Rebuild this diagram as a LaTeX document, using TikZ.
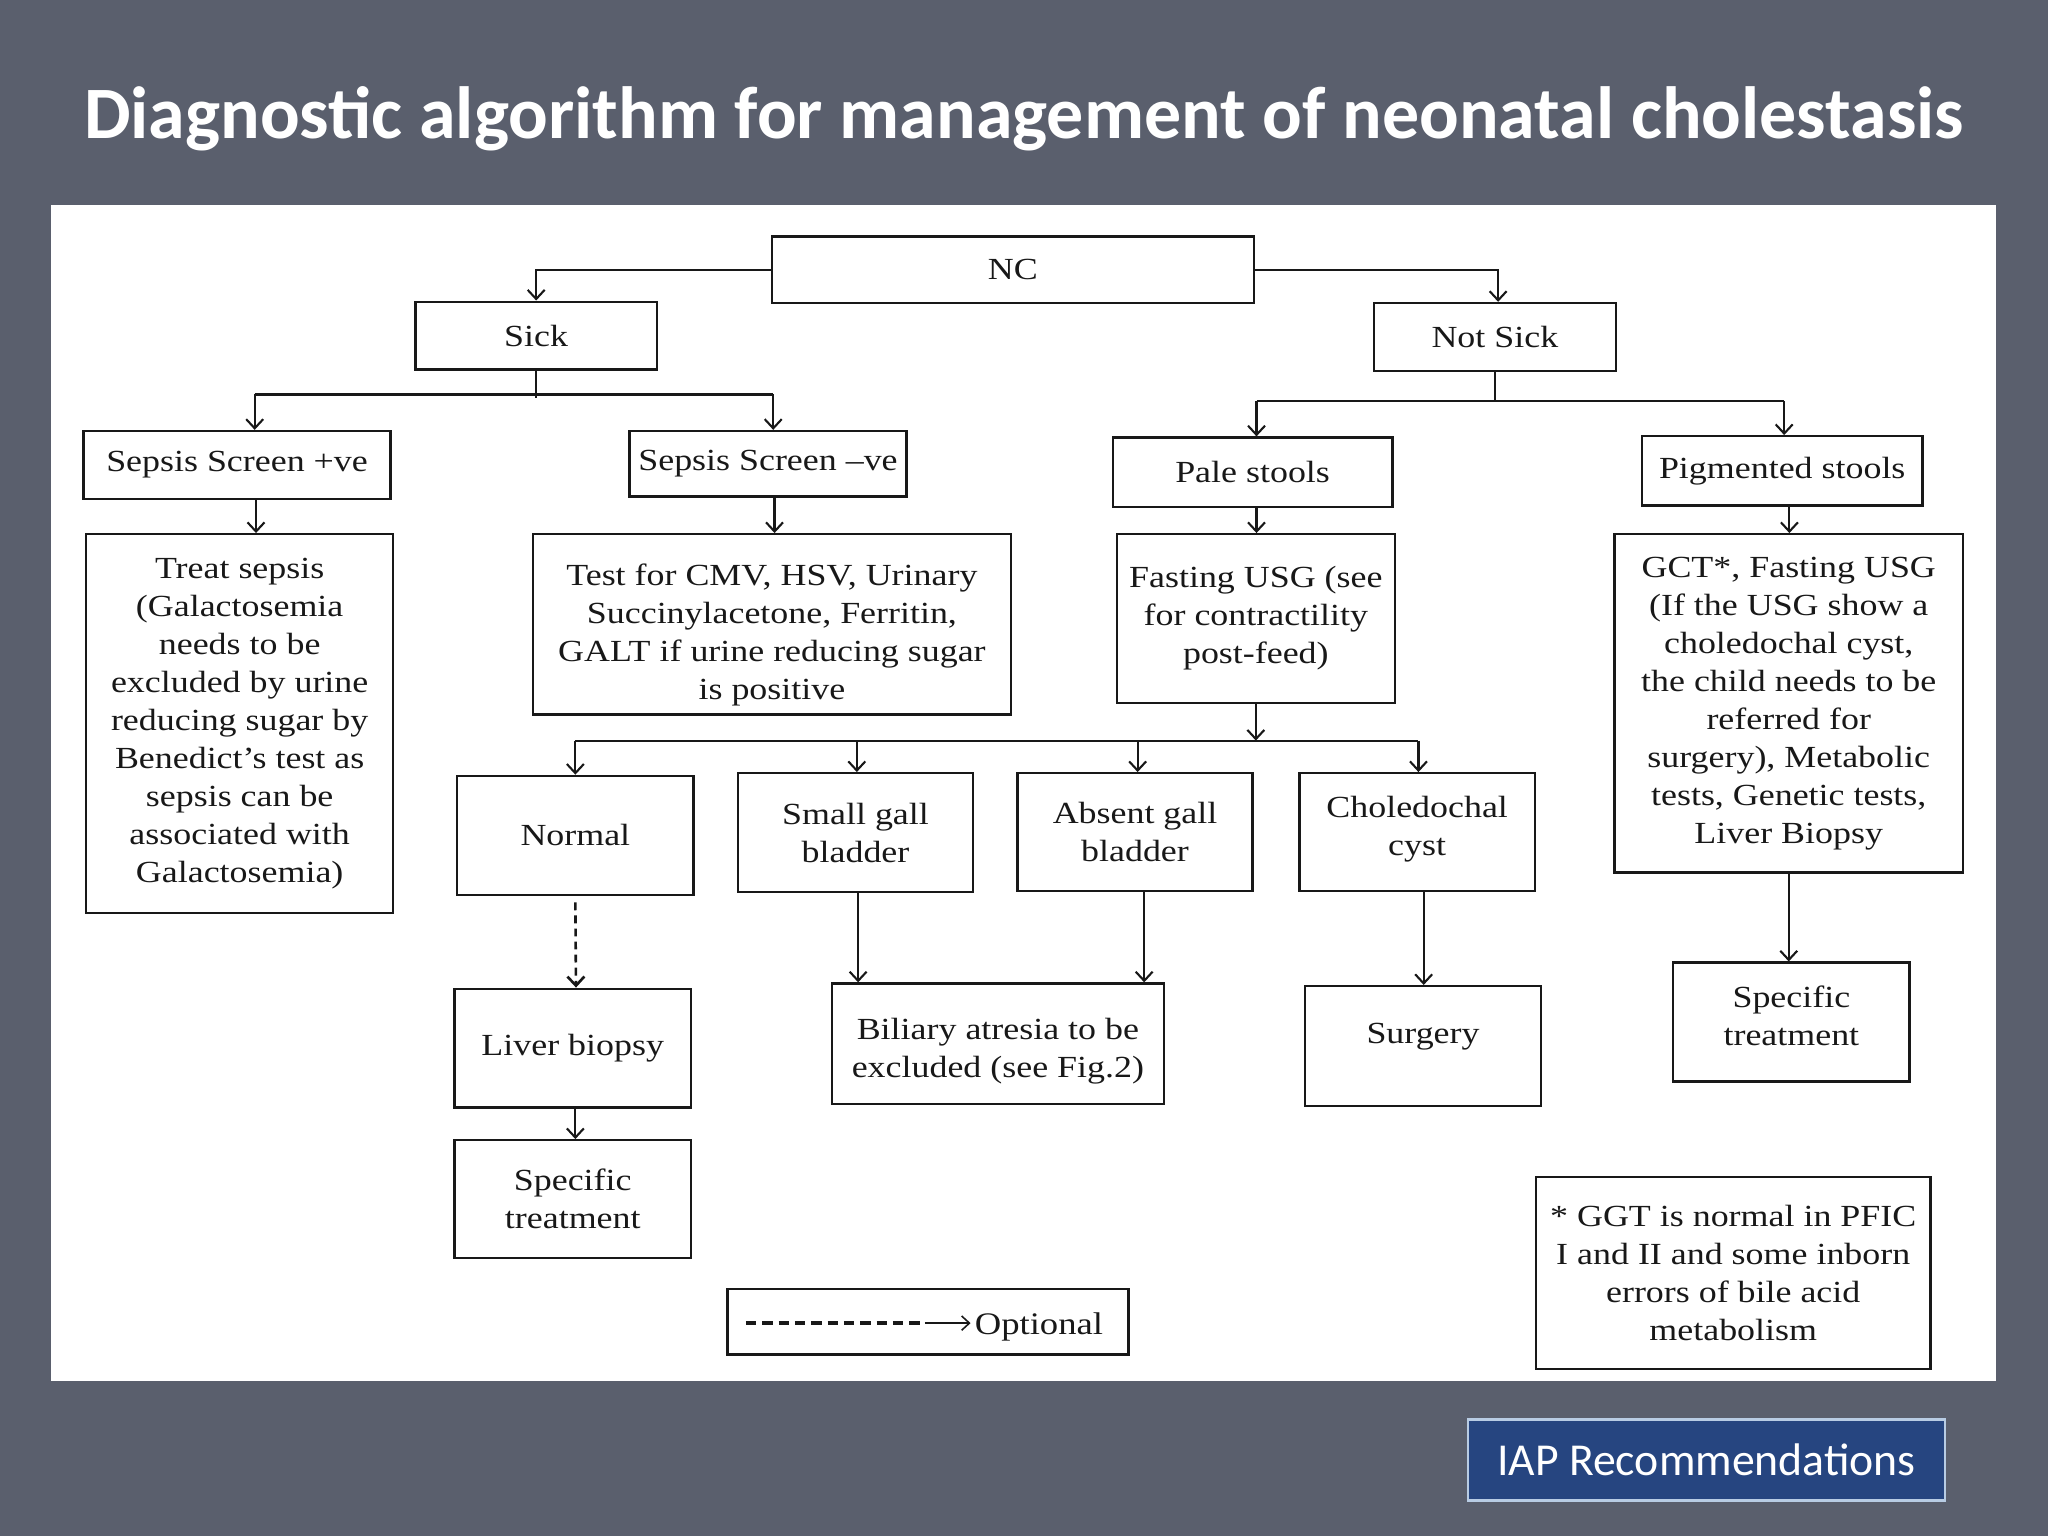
\documentclass[tikz,border=0pt]{standalone}
\usepackage{fontspec}
\usetikzlibrary{arrows.meta}
\newfontfamily\bxfont[FakeStretch=1.17]{Liberation Serif}
\newfontfamily\cbfont{Carlito}
\definecolor{slidebg}{RGB}{90,95,109}
\definecolor{iapblue}{RGB}{38,69,128}
\definecolor{iapedge}{RGB}{184,204,228}
\definecolor{ink}{RGB}{24,24,24}
\begin{document}
\begin{tikzpicture}[x=1pt,y=-1pt,
  box/.style={draw=ink, line width=1.8pt, fill=white, inner sep=0pt, align=center, text=ink,
              font=\bxfont\fontsize{23.5}{29.1}\selectfont},
  txt/.style={inner sep=0pt, align=center, text=ink, font=\bxfont\fontsize{23.5}{29.1}\selectfont},
  wh/.style 2 args={minimum width=#1, minimum height=#2},
  ln/.style={draw=ink, line width=1.6pt},
  arr/.style={ln, -{Straight Barb[length=7pt,width=13pt]}},
  dsh/.style={dash pattern=on 6pt off 4pt, line width=2pt}]
\fill[slidebg] (0,0) rectangle (1568,1176);
\useasboundingbox (0,0) rectangle (1568,1176);
\fill[white] (39,157) rectangle (1528,1057);

% title
\node[text=white, font=\cbfont\bfseries\fontsize{56.6}{60}\selectfont, anchor=base, inner sep=0pt]
  (title) at (784,106) {Diagnostic algorithm for management of neonatal cholestasis};

% boxes
\node[box, wh={369pt}{51pt}] (NC) at (775.5,206.5) {NC};
\node[box, wh={185pt}{52pt}] (Sick) at (410.5,257) {Sick};
\node[box, wh={185pt}{52pt}] (NotSick) at (1144.5,258) {Not Sick};
\node[box, wh={235pt}{52pt}] (SepPos) at (181.5,356) {Sepsis Screen +ve};
\node[box, wh={212pt}{50pt}] (SepNeg) at (588,355) {Sepsis Screen –ve};
\node[box, wh={235pt}{290pt}] (Treat) at (183.5,554) {Treat sepsis\\(Galactosemia\\needs to be\\excluded by urine\\reducing sugar by\\Benedict’s test as\\sepsis can be\\associated with\\Galactosemia)};
\node[box, wh={366pt}{138pt}] (Test) at (591,478) {};
\node[txt] (TestT) at ([yshift=-8pt]Test.center) {Test for CMV, HSV, Urinary\\Succinylacetone, Ferritin,\\GALT if urine reducing sugar\\is positive};
\node[box, wh={214pt}{53pt}] (Pale) at (959,361.5) {Pale stools};
\node[box, wh={213pt}{129pt}] (Fasting) at (961.5,473.5) {Fasting USG (see\\for contractility\\post-feed)};
\node[box, wh={215pt}{53pt}] (Pigm) at (1364.5,360.5) {Pigmented stools};
\node[box, wh={267pt}{259pt}] (GCT) at (1369.5,538.5) {GCT*, Fasting USG\\(If the USG show a\\choledochal cyst,\\the child needs to be\\referred for\\surgery), Metabolic\\tests, Genetic tests,\\Liver Biopsy};
\node[box, wh={181pt}{91pt}] (Normal) at (440.5,639.5) {Normal};
\node[box, wh={180pt}{91pt}] (Small) at (655,637.5) {Small gall\\bladder};
\node[box, wh={180pt}{90pt}] (Absent) at (869,637) {Absent gall\\bladder};
\node[box, wh={180pt}{90pt}] (Chol) at (1085,637) {};
\node[txt] (CholT) at ([yshift=2pt]Chol.center) {Choledochal\\cyst};
\node[box, wh={181pt}{91pt}] (Liver) at (438.5,802.5) {Liver biopsy};
\node[box, wh={181pt}{90pt}] (SpecL) at (438.5,918) {Specific\\treatment};
\node[box, wh={254pt}{92pt}] (Biliary) at (764,799) {};
\node[txt] (BiliaryT) at ([yshift=-6pt]Biliary.center) {Biliary atresia to be\\excluded (see Fig.2)};
\node[box, wh={181pt}{92pt}] (Surgery) at (1089.5,801) {};
\node[txt] (SurgeryT) at ([yshift=7pt]Surgery.center) {Surgery};
\node[box, wh={181pt}{91pt}] (SpecR) at (1371.5,782.5) {};
\node[txt] (SpecRT) at ([yshift=5pt]SpecR.center) {Specific\\treatment};
\node[box, wh={302pt}{147pt}] (Foot) at (1327,974.5) {* GGT is normal in PFIC\\I and II and some inborn\\errors of bile acid\\metabolism};

% legend
\node[box, wh={307pt}{50pt}] (Legend) at (710.5,1012) {};
\draw[draw=ink, line width=2.8pt, dash pattern=on 8pt off 4.5pt] ([xshift=15pt,yshift=-1pt]Legend.west) -- ++(137,0) coordinate (legA);
\draw[draw=ink, line width=1.2pt, -{Straight Barb[length=6pt,width=11pt]}] (legA) -- ++(35,0) coordinate (legB);
\node[anchor=base west, inner sep=0pt, text=ink, font=\bxfont\fontsize{24}{29.1}\selectfont] (Opt) at ([xshift=3pt,yshift=-9pt]legB) {Optional};

% IAP
\node[draw=iapedge, line width=2pt, fill=iapblue, text=white, wh={365pt}{62pt}, inner sep=0pt,
      font=\cbfont\fontsize{35}{40}\selectfont] (IAP) at (1306.5,1118) {IAP Recommendations};

% connectors
\draw[arr] (NC.west) -| (Sick.north);
\draw[arr] (NC.east) -| ([xshift=2.5pt]NotSick.north);

\coordinate (j1) at (409,302);
\coordinate (j1L) at (195,302);
\coordinate (j1R) at (592,302);
\draw[ln] (Sick.south) -- ([yshift=-3pt]Sick.south |- j1);
\draw[ln] (j1L) -- (j1R);
\draw[arr] (j1L) -- (j1L |- SepPos.north);
\draw[arr] (j1R) -- (j1R |- SepNeg.north);

\coordinate (j2L) at (962,307);
\coordinate (j2R) at (1366,307);
\draw[ln] (NotSick.south) -- (NotSick.south |- j2L);
\draw[ln] (j2L) -- (j2R);
\draw[arr] (j2L) -- (j2L |- Pale.north);
\draw[arr] (j2R) -- (j2R |- Pigm.north);

\draw[arr] ([xshift=14.5pt]SepPos.south) -- ([xshift=14.5pt]SepPos.south |- Treat.north);
\draw[arr] ([xshift=5pt]SepNeg.south) -- ([xshift=5pt]SepNeg.south |- Test.north);
\draw[arr] ([xshift=3pt]Pale.south) -- ([xshift=3pt]Pale.south |- Fasting.north);
\draw[arr] ([xshift=5.5pt]Pigm.south) -- ([xshift=5.5pt]Pigm.south |- GCT.north);

\coordinate (j3) at (962,567);
\draw[arr] (Fasting.south) -- (Fasting.south |- j3);
\draw[ln] (Normal.north |- j3) -- ([xshift=1pt]Chol.north |- j3);
\draw[arr] (Normal.north |- j3) -- (Normal.north);
\draw[arr] ([xshift=1pt]Small.north |- j3) -- ([xshift=1pt]Small.north);
\draw[arr] ([xshift=2pt]Absent.north |- j3) -- ([xshift=2pt]Absent.north);
\draw[arr] ([xshift=1pt]Chol.north |- j3) -- ([xshift=1pt]Chol.north);

\draw[arr, dsh] ([yshift=-5pt]Normal.south) -- ([xshift=0.5pt]Normal.south |- Liver.north);
\draw[arr] ([xshift=2pt]Liver.south) -- ([xshift=2pt]Liver.south |- SpecL.north);
\draw[arr] ([xshift=2pt]Small.south) -- ([xshift=2pt]Small.south |- Biliary.north);
\draw[arr] ([xshift=7pt]Absent.south) -- ([xshift=7pt]Absent.south |- Biliary.north);
\draw[arr] ([xshift=5pt]Chol.south) -- ([xshift=5pt]Chol.south |- Surgery.north);
\draw[arr] (GCT.south) -- (GCT.south |- SpecR.north);
\end{tikzpicture}
\end{document}
